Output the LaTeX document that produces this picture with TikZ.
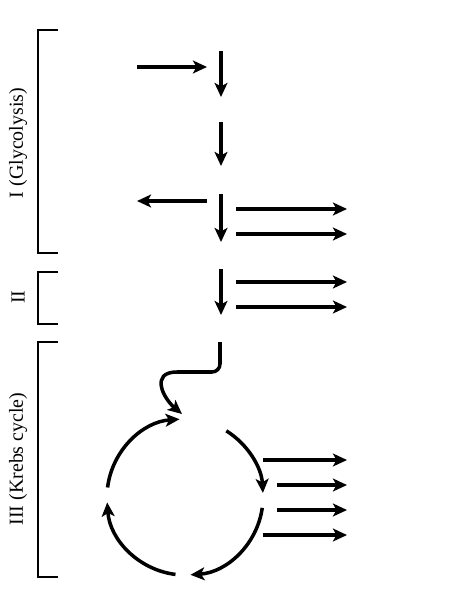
\documentclass[tikz,border=0pt]{standalone}
\usepackage{fontspec}
\setmainfont{Liberation Serif}
\usetikzlibrary{arrows.meta}

\begin{document}
\begin{tikzpicture}[
  x=0.03cm, y=-0.03cm,
  flow/.style={line width=3pt, -{Stealth[length=12pt,width=11pt,inset=3pt]}},
  bracket/.style={line width=0.9pt},
  stage/.style={rotate=90, font=\fontsize{17}{20}\selectfont},
]
\useasboundingbox (0,0) rectangle (448,601);

\begin{scope}
	\node [stage] (lglyc) at (18,143) {I (Glycolysis)};
	\node [stage] (lii) at (18,297) {II};
	\node [stage] (lkrebs) at (18,459) {III (Krebs cycle)};

	\draw [bracket] (58,30) -- (38,30) -- (38,253) -- (58,253);
	\draw [bracket] (58,272) -- (38,272) -- (38,324) -- (58,324);
	\draw [bracket] (58,342) -- (38,342) -- (38,577) -- (58,577);
\end{scope}

\begin{scope}
	\coordinate (in0) at (137,67);
	\coordinate (in1) at (207,67);
	\draw [flow] (in0) -- (in1);

	\coordinate (out0) at (207,201);
	\coordinate (out1) at (137,201);
	\draw [flow] (out0) -- (out1);

	\foreach \ya/\yb [count=\i] in {51/97, 122/166, 194/242, 269/315} {
		\coordinate (d\i a) at (221,\ya);
		\coordinate (d\i b) at (221,\yb);
		\draw [flow] (d\i a) -- (d\i b);
	}

	\foreach \y [count=\i] in {209, 234, 282, 307} {
		\coordinate (r\i a) at (236,\y);
		\coordinate (r\i b) at (347,\y);
		\draw [flow] (r\i a) -- (r\i b);
	}
\end{scope}

\begin{scope}
	\coordinate (top) at (220,342);
	\coordinate (entry) at (182,414);
	\draw [flow] (top) -- (220,364) to [out=-90,in=0] (212,372) -- (177,372)
		.. controls (150,372) and (163,398) .. (entry);

	\coordinate (kc) at (185,497);
	\draw [flow] ([shift={(-173:78)}]kc) arc [start angle=-173, end angle=-94, radius=78];
	\draw [flow] ([shift={(-58:78)}]kc) arc [start angle=-58, end angle=-3, radius=78];
	\draw [flow] ([shift={(8:78)}]kc) arc [start angle=8, end angle=86, radius=78];
	\draw [flow] ([shift={(97:78)}]kc) arc [start angle=97, end angle=176, radius=78];

	\foreach \xa/\y [count=\i] in {263/460, 277/485, 277/510, 263/535} {
		\coordinate (k\i a) at (\xa,\y);
		\coordinate (k\i b) at (347,\y);
		\draw [flow] (k\i a) -- (k\i b);
	}
\end{scope}

\end{tikzpicture}
\end{document}
